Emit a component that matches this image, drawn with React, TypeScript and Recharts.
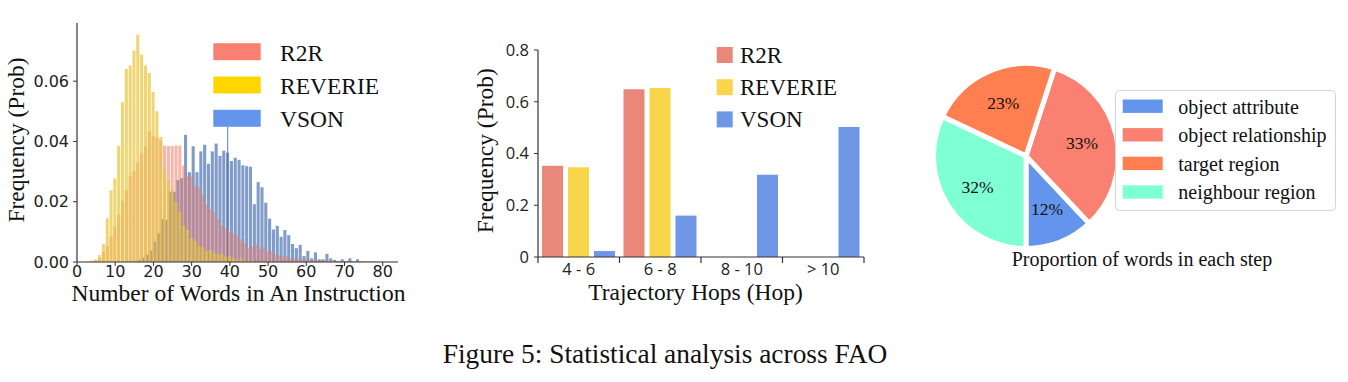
import React from 'react';
import { BarChart, Bar, XAxis, YAxis, PieChart, Pie, Cell } from 'recharts';

// ---------- Panel 1: number of words per instruction (histograms) ----------
const WORD_BINS = [
  3, 4, 5, 6, 7, 8, 9, 10, 11, 12,
  13, 14, 15, 16, 17, 18, 19, 20, 21, 22,
  23, 24, 25, 26, 27, 28, 29, 30, 31, 32,
  33, 34, 35, 36, 37, 38, 39, 40, 41, 42,
  43, 44, 45, 46, 47, 48, 49, 50, 51, 52,
  53, 54, 55, 56, 57, 58, 59, 60, 61, 62,
  63, 64, 65, 66, 67, 68, 69, 70, 71, 72,
  73, 74, 75, 76, 77, 78, 79, 80, 81, 82,
  83, 84,
];
const WORD_TICKS = [0, 10, 20, 30, 40, 50, 60, 70, 80];
const WORD_FREQ_TICKS = [0, 0.02, 0.04, 0.06];
// VSON histogram bins are [n, n+1) (centre n + 0.5); R2R / REVERIE bins are centred on n
const VSON_BIN_CENTER_SHIFT = 0.5;

const R2R_WORDS = [
  0.0002, 0.0004, 0.0007, 0.0012, 0.0034, 0.0053, 0.0084, 0.0117, 0.0156, 0.0203,
  0.0238, 0.0285, 0.0302, 0.0329, 0.0360, 0.0384, 0.0433, 0.0419, 0.0413, 0.0404,
  0.0386, 0.0385, 0.0385, 0.0387, 0.0386, 0.0320, 0.0285, 0.0283, 0.0252, 0.0248,
  0.0222, 0.0190, 0.0175, 0.0165, 0.0142, 0.0120, 0.0112, 0.0099, 0.0094, 0.0088,
  0.0075, 0.0062, 0.0047, 0.0052, 0.0058, 0.0045, 0.0048, 0.0036, 0.0036, 0.0025,
  0.0021, 0.0018, 0.0019, 0.0013, 0.0013, 0.0012, 0.0010, 0.0009, 0.0008, 0.0007,
  0.0006, 0.0006, 0.0005, 0.0005, 0.0004, 0.0004, 0.0003, 0.0003, 0.0003, 0.0002,
  0.0002, 0.0002, 0.0002, 0.0002, 0.0002, 0.0001, 0.0001, 0.0001, 0.0001, 0.0001,
  0.0001, 0,
];
const REVERIE_WORDS = [
  0, 0.0002, 0.0008, 0.0023, 0.0060, 0.0145, 0.0238, 0.0277, 0.0385, 0.0530,
  0.0641, 0.0652, 0.0702, 0.0755, 0.0688, 0.0652, 0.0627, 0.0564, 0.0500, 0.0415,
  0.0310, 0.0272, 0.0240, 0.0198, 0.0168, 0.0120, 0.0108, 0.0080, 0.0070, 0.0052,
  0.0050, 0.0036, 0.0040, 0.0030, 0.0025, 0.0028, 0.0018, 0.0020, 0.0013, 0.0008,
  0.0012, 0.0005, 0.0004, 0.0003, 0.0002, 0.0002, 0.0001, 0.0001, 0, 0,
  0, 0, 0, 0, 0, 0, 0, 0, 0, 0,
  0, 0, 0, 0, 0, 0, 0, 0, 0, 0,
  0, 0, 0, 0, 0, 0, 0, 0, 0, 0,
  0, 0,
];
const VSON_WORDS = [
  0, 0, 0, 0, 0, 0, 0, 0, 0, 0,
  0, 0, 0.0003, 0.0008, 0.0015, 0.0025, 0.0038, 0.0068, 0.0095, 0.0142,
  0.0140, 0.0232, 0.0233, 0.0272, 0.0278, 0.0422, 0.0298, 0.0384, 0.0298, 0.0367,
  0.0389, 0.0326, 0.0367, 0.0393, 0.0352, 0.0369, 0.0363, 0.0335, 0.0346, 0.0339,
  0.0321, 0.0318, 0.0316, 0.0192, 0.0265, 0.0248, 0.0197, 0.0144, 0.0108, 0.0120,
  0.0084, 0.0106, 0.0089, 0.0060, 0.0046, 0.0057, 0.0020, 0.0037, 0.0012, 0.0032,
  0.0009, 0.0009, 0.0027, 0.0012, 0.0007, 0.0003, 0.0009, 0.0003, 0.0012, 0.0002,
  0.0009, 0.0002, 0.0001, 0.0001, 0.0001, 0.0001, 0, 0, 0, 0,
  0, 0,
];
// thin spike drawn at the 39-word VSON bin (runs up behind the legend patch)
const VSON_SPIKE_BINS = [39];
const VSON_SPIKE_VALUES = [0.0448];

const WORD_SERIES = ['R2R', 'REVERIE', 'VSON'];
const WORD_LEGEND_COLORS = ['#FA8072', '#FFD700', '#6495ED'];

// ---------- Panel 2: trajectory hops ----------
const HOP_CATEGORIES = ['4 - 6', '6 - 8', '8 - 10', '> 10'];
const R2R_HOPS = [0.353, 0.648, null, null];
const REVERIE_HOPS = [0.347, 0.653, null, null];
const VSON_HOPS = [0.023, 0.16, 0.318, 0.502];
const HOP_TICKS = [0, 0.2, 0.4, 0.6, 0.8];
const HOP_SERIES = ['R2R', 'REVERIE', 'VSON'];
const HOP_COLORS = ['#E9877A', '#F8D54A', '#6F97E6'];

// ---------- Panel 3: proportion of words in each step ----------
const STEP_NAMES = ['object attribute', 'object relationship', 'target region', 'neighbour region'];
const STEP_SHARES = [12, 33, 23, 32];
const STEP_COLORS = ['#6495ED', '#FA8072', '#FF7F50', '#7FFFD4'];

const wordRows = WORD_BINS.map((bin, i) => {
  const k = VSON_SPIKE_BINS.indexOf(bin);
  return {
    bin,
    vsonCenter: bin + VSON_BIN_CENTER_SHIFT,
    r2r: R2R_WORDS[i],
    reverie: REVERIE_WORDS[i],
    vson: VSON_WORDS[i],
    spike: k >= 0 ? VSON_SPIKE_VALUES[k] : null,
  };
});

const hopRows = HOP_CATEGORIES.map((hop, i) => ({
  hop,
  r2r: R2R_HOPS[i],
  reverie: REVERIE_HOPS[i],
  vson: VSON_HOPS[i],
}));

const stepRows = STEP_NAMES.map((name, i) => ({ name, value: STEP_SHARES[i] }));

const SERIF = '"Liberation Serif", "Times New Roman", serif';
const AXIS_COLOR = '#333';

const HopTick = (props: any) => {
  const { x, y, payload, index, visibleTicksCount } = props;
  const half = payload && payload.offset ? payload.offset : 40.8;
  const axisY = y - 7;
  const isLast = index === (visibleTicksCount || HOP_CATEGORIES.length) - 1;
  return (
    <g>
      <line x1={x - half} x2={x - half} y1={axisY} y2={axisY + 6} stroke={AXIS_COLOR} strokeWidth={1.2} />
      {isLast && <line x1={x + half} x2={x + half} y1={axisY} y2={axisY + 6} stroke={AXIS_COLOR} strokeWidth={1.2} />}
      <text x={x} y={y + 11} textAnchor="middle" fontFamily='"Open Sans", sans-serif' fontSize={16.5} fill="#222">
        {payload.value}
      </text>
    </g>
  );
};

const RADIAN = Math.PI / 180;
const renderPct = (p: any) => {
  const r = p.outerRadius * 0.62;
  const x = p.cx + r * Math.cos(-p.midAngle * RADIAN);
  const y = p.cy + r * Math.sin(-p.midAngle * RADIAN);
  return (
    <text
      key={`pct-${p.index}`}
      x={x}
      y={y}
      textAnchor="middle"
      dominantBaseline="central"
      style={{ fontFamily: SERIF, fontSize: 17.5, fill: '#111' }}
    >
      {`${p.value}%`}
    </text>
  );
};

export default function App() {
  return (
    <div style={{ position: 'absolute', left: 0, top: 0, width: 1348, height: 382, background: '#fff', overflow: 'hidden' }}>
      {/* Panel 1 */}
      <div style={{ position: 'absolute', left: 0, top: 0 }}>
        <BarChart width={410} height={310} data={wordRows} margin={{ top: 23, right: 12, bottom: 18, left: 17 }}>
          <XAxis
            xAxisId="r2r"
            dataKey="bin"
            type="number"
            domain={[0, 84]}
            allowDataOverflow
            ticks={WORD_TICKS}
            interval={0}
            tickSize={4}
            tickMargin={0}
            tick={{ fill: '#222', fontSize: 16, fontFamily: '"DejaVu Sans", sans-serif' }}
            tickLine={{ stroke: AXIS_COLOR }}
            axisLine={{ stroke: AXIS_COLOR, strokeWidth: 1.2 }}
          />
          <XAxis xAxisId="reverie" dataKey="bin" type="number" domain={[0, 84]} allowDataOverflow hide />
          <XAxis xAxisId="vson" dataKey="vsonCenter" type="number" domain={[0, 84]} allowDataOverflow hide />
          <XAxis xAxisId="spike" dataKey="vsonCenter" type="number" domain={[0, 84]} allowDataOverflow hide />
          <YAxis
            width={60}
            domain={[0, 0.0793]}
            allowDataOverflow
            ticks={WORD_FREQ_TICKS}
            interval={0}
            tickFormatter={(v: number) => v.toFixed(2)}
            tickSize={4}
            tickMargin={4}
            tick={{ fill: '#222', fontSize: 16, fontFamily: '"DejaVu Sans", sans-serif' }}
            tickLine={{ stroke: AXIS_COLOR }}
            axisLine={{ stroke: AXIS_COLOR, strokeWidth: 1.2 }}
          />
          <Bar xAxisId="vson" dataKey="vson" name="VSON" fill="#4C72B0" fillOpacity={0.7} barSize={3.1} isAnimationActive={false} />
          <Bar xAxisId="spike" dataKey="spike" name="VSON" fill="#4C72B0" fillOpacity={0.75} barSize={1.2} isAnimationActive={false} />
          <Bar xAxisId="r2r" dataKey="r2r" name="R2R" fill="#F07C6C" fillOpacity={0.55} barSize={3.1} isAnimationActive={false} />
          <Bar xAxisId="reverie" dataKey="reverie" name="REVERIE" fill="#E8C43A" fillOpacity={0.7} barSize={3.1} isAnimationActive={false} />
        </BarChart>
      </div>

      {/* Panel 2 */}
      <div style={{ position: 'absolute', left: 460, top: 0 }}>
        <BarChart width={420} height={310} data={hopRows} margin={{ top: 50, right: 16, bottom: 23, left: 28 }} barCategoryGap={4} barGap={5}>
          <XAxis
            dataKey="hop"
            interval={0}
            tickSize={5}
            tickMargin={2}
            tickLine={false}
            tick={<HopTick />}
            axisLine={{ stroke: AXIS_COLOR, strokeWidth: 1.2 }}
          />
          <YAxis
            width={50}
            domain={[0, 0.8]}
            ticks={HOP_TICKS}
            interval={0}
            tickFormatter={(v: number) => (v === 0 ? '0' : v.toFixed(1))}
            tickSize={4}
            tickMargin={5}
            tick={{ fill: '#222', fontSize: 16.5, fontFamily: '"Open Sans", sans-serif' }}
            tickLine={{ stroke: AXIS_COLOR }}
            axisLine={{ stroke: AXIS_COLOR, strokeWidth: 1.2 }}
          />
          <Bar dataKey="r2r" name={HOP_SERIES[0]} fill={HOP_COLORS[0]} barSize={21} isAnimationActive={false} />
          <Bar dataKey="reverie" name={HOP_SERIES[1]} fill={HOP_COLORS[1]} barSize={21} isAnimationActive={false} />
          <Bar dataKey="vson" name={HOP_SERIES[2]} fill={HOP_COLORS[2]} barSize={21} isAnimationActive={false} />
        </BarChart>
      </div>

      {/* Panel 3 */}
      <div style={{ position: 'absolute', left: 909, top: 39 }}>
        <PieChart width={224} height={224}>
          <Pie
            data={stepRows}
            dataKey="value"
            nameKey="name"
            cx={112}
            cy={112}
            outerRadius={92.5}
            startAngle={-90}
            endAngle={270}
            stroke="#fff"
            strokeWidth={5}
            label={renderPct}
            labelLine={false}
            isAnimationActive={false}
          >
            {stepRows.map((r, i) => (
              <Cell key={r.name} fill={STEP_COLORS[i]} />
            ))}
          </Pie>
        </PieChart>
      </div>

      {/* Titles, legends and caption */}
      <svg width={1348} height={382} style={{ position: 'absolute', left: 0, top: 0, pointerEvents: 'none' }}>
        <g fontFamily={SERIF} fill="#111">
          {/* panel 1 */}
          <text x={238.5} y={300.5} textAnchor="middle" fontSize={23.5}>Number of Words in An Instruction</text>
          <text transform="translate(24,140) rotate(-90)" textAnchor="middle" fontSize={23.5}>Frequency (Prob)</text>
          {WORD_SERIES.map((s, i) => (
            <g key={s}>
              <rect x={213.3} y={43.2 + i * 33.3} width={47.4} height={17} fill={WORD_LEGEND_COLORS[i]} />
              <text x={280} y={60.5 + i * 33.3} fontSize={23.5}>{s}</text>
            </g>
          ))}
          {/* panel 2 */}
          <text x={695.5} y={299.5} textAnchor="middle" fontSize={23.5}>Trajectory Hops (Hop)</text>
          <text transform="translate(493,150.7) rotate(-90)" textAnchor="middle" fontSize={23.5}>Frequency (Prob)</text>
          {HOP_SERIES.map((s, i) => (
            <g key={s}>
              <rect x={716.7} y={47 + i * 32.2} width={16} height={16} fill={HOP_COLORS[i]} />
              <text x={740} y={62.5 + i * 32.2} fontSize={23}>{s}</text>
            </g>
          ))}
          {/* panel 3 */}
          <rect x={1115.5} y={90.5} width={220} height={120} rx={4} fill="#fff" stroke="#d4d4d4" strokeWidth={1} />
          {STEP_NAMES.map((s, i) => (
            <g key={s}>
              <rect x={1122.7} y={99.5 + i * 28.6} width={40} height={13.4} fill={STEP_COLORS[i]} />
              <text x={1178.3} y={113.5 + i * 28.6} fontSize={20}>{s}</text>
            </g>
          ))}
          <text x={1142} y={266} textAnchor="middle" fontSize={20}>Proportion of words in each step</text>
          {/* caption */}
          <text x={665} y={363} textAnchor="middle" fontSize={27.4}>Figure 5: Statistical analysis across FAO</text>
        </g>
      </svg>
    </div>
  );
}
